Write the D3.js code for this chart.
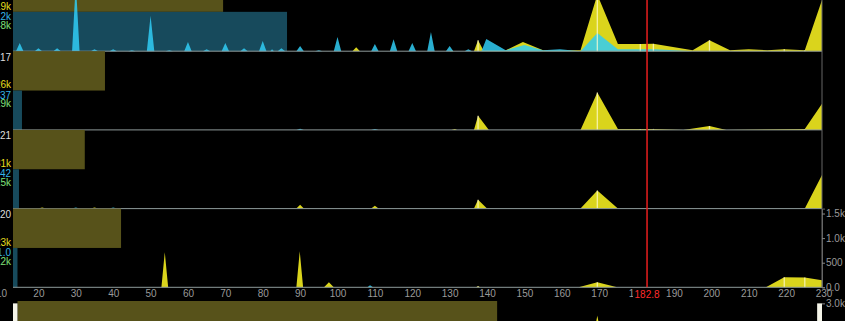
<!DOCTYPE html>
<html>
<head>
<meta charset="utf-8">
<script src="https://cdn.jsdelivr.net/npm/d3@7"></script>
<style>
  body { margin: 0; background: #000; overflow: hidden; }
  svg { display: block; font-family: "Liberation Sans", Arial, sans-serif; }
</style>
</head>
<body>
<div id="vis"></div>
<script>
const W = 845, H = 321
const plotLeft = 13, plotRight = 822
const panelTop = -27.5, panelH = 78.7

// x axis
const xDomain = [13.2, 229.6]
const xTicks = [10, 20, 30, 40, 50, 60, 70, 80, 90, 100, 110, 120, 130, 140, 150, 160, 170, 180, 190, 200, 210, 220, 230]
const cursorValue = 182.8

// per-panel labels on the left (only the right part shows, the rest is off the page)
const panelCounts = ['18', '17', '21', '20']
const yellowLabels = ['19k', '26k', '31k', '23k']
const blueLabels = ['12k', '37', '42', '1.0']
const greenLabels = ['48k', '29k', '15k', '12k']

// horizontal bars in each panel (end value on the x scale)
const yellowBarEnds = [69.4, 37.8, 32.4, 42.1]
const tealBarEnds = [86.5, 15.6, 14.8, 14.4]

// area series, [x, value]
const yellow1 = [[13.2,0],[104,0],[105,80],[106,0],[130,0],[130.5,20],[131,0],[136.5,0],[137.6,225],[139,20],[145,20],
  [149.6,185],[155,20],[165,20],[169.5,1150],[175,145],[181,145],[184.5,150],[195,20],[199.5,225],[205,20],[210,40],
  [215,20],[219.5,40],[225,20],[230,1130]]
const cyan1 = [[13.2,0],[14,0],[15,165],[16,0],[19,0],[20,60],[21,0],[24,0],[25,60],[26,0],[29,0],[30,1400],[31,0],
  [34,0],[35,40],[36,0],[39,0],[40,40],[41,0],[44,0],[45,20],[46,0],[49,0],[50,720],[51,0],[54,0],[55,20],[56,0],
  [59,0],[60,185],[61,0],[64,0],[65,40],[66,0],[69,0],[70,165],[71,0],[74,0],[75,60],[76,0],[79,0],[80,205],[81,0],
  [82,0],[82.5,40],[83,0],[84,0],[85,60],[86,0],[89,0],[90,105],[91,0],[94,0],[95,20],[96,0],[99,0],[100,290],[101,0],
  [109,0],[110,145],[111,0],[114,0],[115,245],[116,0],[119,0],[120,165],[121,0],[124,0],[125,390],[126,0],[129,0],
  [130,105],[131,0],[134,0],[135,40],[136,0],[138.5,0],[139.8,250],[145,20],[150,125],[155,20],[159.5,40],[165,0],
  [169.5,370],[175,40],[185,40],[195,0],[230,0]]

const yellow2 = [[13.2,0],[130.5,0],[131.4,20],[132,0],[136.5,0],[137.6,290],[140.5,0],[165,0],[169.5,760],[175,20],
  [181,20],[184.5,20],[192.5,0],[199.5,80],[204,0],[225,20],[230,575]]
const cyan2 = [[13.2,0],[89,0],[90,25],[91,0],[109,0],[110,20],[111,0],[230,0]]

const yellow3 = [[13.2,0],[20,0],[21,20],[22,0],[34,0],[35,20],[36,0],[89,0],[90,80],[91,0],[109,0],[110,60],[111,0],
  [136.5,0],[137.6,180],[140,0],[165,0],[169.5,370],[175,0],[225,0],[230,740]]
const cyan3 = [[13.2,0],[29,0],[30,20],[31,0],[39,0],[40,20],[41,0],[230,0]]

const yellow4 = [[13.2,0],[52.9,0],[53.8,715],[54.7,0],[89,0],[89.9,735],[90.8,0],[96.4,0],[97.7,105],[99,0],[137,0],
  [137.6,20],[138.2,0],[164.5,0],[169.5,105],[174.8,0],[214.6,0],[219.5,205],[225,200],[230,140]]
const cyan4 = [[13.2,0],[108,0],[108.7,40],[109.5,0],[230,0]]

const yellowSeries = [yellow1, yellow2, yellow3, yellow4]
const cyanSeries = [cyan1, cyan2, cyan3, cyan4]

// points that get a light marker line
const highlightXs = [137.6, 169.5, 181, 184.5, 199.5, 219.5, 225]
const rightTicks = [0, 500, 1000, 1500]

// bottom panel (cut off by the page)
const yellow5 = [[167,0],[169.5,2450],[172,0]]
const yellowBar5 = [14.4, 142.7]
const whiteBars5 = [[13.2, 14.4, 3000], [228.3, 229.6, 3000]]
const rightTicks5 = [2000, 3000]

const colors = {
  yellow: '#e6df1e', cyan: '#30cdf5', olive: '#57521a', teal: '#174a5c',
  green: '#7fe07a', blue: '#35b4e6', label: '#dddddd', tick: '#9a9a9a', red: '#e81e1e'
}

const svg = d3.select('#vis')
  .append('svg')
  .attr('width', W)
  .attr('height', H)

svg.append('rect').attr('width', W).attr('height', H).attr('fill', '#000')

svg.append('defs').append('clipPath')
  .attr('id', 'plotClip')
  .append('rect')
  .attr('x', plotLeft).attr('y', -100)
  .attr('width', plotRight - plotLeft).attr('height', H + 200)

const x = d3.scaleLinear().domain(xDomain).range([plotLeft, plotRight])

const fmt = d => d === 0 ? '0.0' : d >= 1000 ? (d / 1000).toFixed(1) + 'k' : String(d)

function drawPanel(i) {
  const top = panelTop + i * panelH
  const bottom = top + panelH
  const y = d3.scaleLinear().domain([0, 1600]).range([bottom, top])
  const g = svg.append('g').attr('class', 'panel')
  const plot = g.append('g').attr('clip-path', 'url(#plotClip)')

  // horizontal bars: yellow in the upper half, teal in the lower half
  plot.append('rect')
    .attr('x', x(xDomain[0]))
    .attr('y', top)
    .attr('width', x(yellowBarEnds[i]) - x(xDomain[0]))
    .attr('height', panelH / 2)
    .attr('fill', colors.olive)
  plot.append('rect')
    .attr('x', x(xDomain[0]))
    .attr('y', top + panelH / 2)
    .attr('width', x(tealBarEnds[i]) - x(xDomain[0]))
    .attr('height', panelH / 2)
    .attr('fill', colors.teal)

  const area = d3.area()
    .x(d => x(d[0]))
    .y0(y(0))
    .y1(d => y(d[1]))

  plot.append('path')
    .datum(yellowSeries[i])
    .attr('d', area)
    .attr('fill', colors.yellow)
    .attr('opacity', 0.95)

  plot.append('path')
    .datum(cyanSeries[i])
    .attr('d', area)
    .attr('fill', colors.cyan)
    .attr('opacity', 0.85)

  // light marker lines at highlighted samples
  const marks = yellowSeries[i].filter(d => highlightXs.includes(d[0]) && d[1] > 0)
  plot.selectAll('.mark')
    .data(marks)
    .enter()
    .append('line')
    .attr('class', 'mark')
    .attr('x1', d => x(d[0])).attr('x2', d => x(d[0]))
    .attr('y1', y(0)).attr('y2', d => y(d[1]))
    .attr('stroke', '#fffbd0')
    .attr('stroke-opacity', 0.75)
    .attr('stroke-width', 1.3)

  // baseline
  g.append('line')
    .attr('x1', plotLeft).attr('x2', plotRight)
    .attr('y1', bottom).attr('y2', bottom)
    .attr('stroke', '#8e9a9a')
    .attr('stroke-width', 1)

  // labels at the left edge
  const labels = [
    { t: panelCounts[i], dy: 6, c: colors.label },
    { t: yellowLabels[i], dy: 33.5, c: colors.yellow },
    { t: blueLabels[i], dy: 44, c: colors.blue },
    { t: greenLabels[i], dy: 52.5, c: colors.green }
  ]
  g.selectAll('.lbl')
    .data(labels)
    .enter()
    .append('text')
    .attr('class', 'lbl')
    .attr('x', 11)
    .attr('y', d => top + d.dy)
    .attr('dy', '0.35em')
    .attr('text-anchor', 'end')
    .style('font-size', '10px')
    .style('fill', d => d.c)
    .text(d => d.t)

  return y
}

const yScales = [0, 1, 2, 3].map(drawPanel)

// right edge line for all panels
svg.append('line')
  .attr('x1', plotRight).attr('x2', plotRight)
  .attr('y1', 0).attr('y2', panelTop + 4 * panelH)
  .attr('stroke', '#666')

// right axis on the 4th panel
const rAxis = svg.append('g')
  .attr('transform', `translate(${plotRight},0)`)
  .call(d3.axisRight(yScales[3]).tickValues(rightTicks).tickSize(3).tickPadding(1).tickFormat(fmt))
rAxis.select('.domain').attr('stroke', '#666')

// bottom panel
const top5 = 301
const y5 = d3.scaleLinear().domain([0, 3200]).range([top5 + 68, top5 - 2])
const plot5 = svg.append('g').attr('clip-path', 'url(#plotClip)')
plot5.append('rect')
  .attr('x', x(yellowBar5[0]))
  .attr('y', top5)
  .attr('width', x(yellowBar5[1]) - x(yellowBar5[0]))
  .attr('height', 40)
  .attr('fill', colors.olive)
plot5.selectAll('.wbar')
  .data(whiteBars5)
  .enter()
  .append('rect')
  .attr('class', 'wbar')
  .attr('x', d => x(d[0]))
  .attr('y', d => y5(d[2]))
  .attr('width', d => x(d[1]) - x(d[0]))
  .attr('height', d => y5(0) - y5(d[2]))
  .attr('fill', '#f4f4e8')
plot5.append('path')
  .datum(yellow5)
  .attr('d', d3.area().x(d => x(d[0])).y0(y5(0)).y1(d => y5(d[1])))
  .attr('fill', colors.yellow)
const rAxis5 = svg.append('g')
  .attr('transform', `translate(${plotRight},0)`)
  .call(d3.axisRight(y5).tickValues(rightTicks5).tickSize(3).tickPadding(1).tickFormat(fmt))
rAxis5.select('.domain').remove()

svg.selectAll('.tick text').style('fill', colors.tick).style('font-size', '10px')
svg.selectAll('.tick line').attr('stroke', '#888')

// bottom x axis
const xAxis = svg.append('g')
  .attr('transform', `translate(0,${panelTop + 4 * panelH})`)
  .call(d3.axisBottom(x).tickValues(xTicks).tickSize(0).tickPadding(3))
xAxis.select('.domain').remove()
xAxis.selectAll('text').style('fill', colors.tick).style('font-size', '10px')

// cursor line + value label
const cx = x(cursorValue)
svg.append('line')
  .attr('x1', cx).attr('x2', cx)
  .attr('y1', 0).attr('y2', panelTop + 4 * panelH)
  .attr('stroke', colors.red)
  .attr('stroke-width', 1.5)
svg.append('rect')
  .attr('x', cx - 14).attr('y', panelTop + 4 * panelH + 1)
  .attr('width', 28).attr('height', 12)
  .attr('fill', '#000')
svg.append('text')
  .attr('x', cx)
  .attr('y', panelTop + 4 * panelH + 7)
  .attr('dy', '0.35em')
  .attr('text-anchor', 'middle')
  .style('font-size', '10px')
  .style('fill', '#ff2b2b')
  .text(cursorValue)
</script>
</body>
</html>
